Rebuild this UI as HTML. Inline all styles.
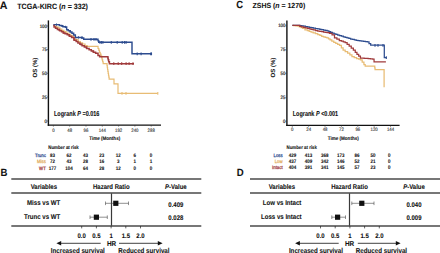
<!DOCTYPE html>
<html><head><meta charset="utf-8"><style>
html,body{margin:0;padding:0;background:#fff;width:440px;height:253px;overflow:hidden}
svg{display:block;font-family:"Liberation Sans", sans-serif;text-rendering:geometricPrecision}
</style></head><body>
<svg width="440" height="253" viewBox="0 0 440 253">
<rect width="440" height="253" fill="#fff"/>
<text transform="translate(-0.3 8.5) scale(1 1.02)" font-size="10.6" font-weight="bold" text-anchor="start" fill="#111" font-style="normal"  stroke="#111" stroke-width="0.08">A</text>
<text transform="translate(17.2 8.5) scale(1 1.08)" font-size="7.1" font-weight="bold" text-anchor="start" fill="#111" font-style="normal"  stroke="#111" stroke-width="0.08">TCGA-KIRC (<tspan font-style="italic">n</tspan> = 332)</text>
<line x1="48.4" y1="20.4" x2="48.4" y2="125.85000000000001" stroke="#111" stroke-width="1.4"/>
<line x1="47.8" y1="125.2" x2="161" y2="125.2" stroke="#111" stroke-width="1.3"/>
<line x1="53.4" y1="125.2" x2="53.4" y2="126.60000000000001" stroke="#333" stroke-width="0.6"/>
<text transform="translate(53.4 131.5) scale(1 1.14)" font-size="4.3" font-weight="normal" text-anchor="middle" fill="#444" font-style="normal" stroke="#444" stroke-width="0.12">0</text>
<line x1="69.7" y1="125.2" x2="69.7" y2="126.60000000000001" stroke="#333" stroke-width="0.6"/>
<text transform="translate(69.7 131.5) scale(1 1.14)" font-size="4.3" font-weight="normal" text-anchor="middle" fill="#444" font-style="normal" stroke="#444" stroke-width="0.12">48</text>
<line x1="86.0" y1="125.2" x2="86.0" y2="126.60000000000001" stroke="#333" stroke-width="0.6"/>
<text transform="translate(86.0 131.5) scale(1 1.14)" font-size="4.3" font-weight="normal" text-anchor="middle" fill="#444" font-style="normal" stroke="#444" stroke-width="0.12">96</text>
<line x1="102.30000000000001" y1="125.2" x2="102.30000000000001" y2="126.60000000000001" stroke="#333" stroke-width="0.6"/>
<text transform="translate(102.30000000000001 131.5) scale(1 1.14)" font-size="4.3" font-weight="normal" text-anchor="middle" fill="#444" font-style="normal" stroke="#444" stroke-width="0.12">144</text>
<line x1="118.6" y1="125.2" x2="118.6" y2="126.60000000000001" stroke="#333" stroke-width="0.6"/>
<text transform="translate(118.6 131.5) scale(1 1.14)" font-size="4.3" font-weight="normal" text-anchor="middle" fill="#444" font-style="normal" stroke="#444" stroke-width="0.12">192</text>
<line x1="134.9" y1="125.2" x2="134.9" y2="126.60000000000001" stroke="#333" stroke-width="0.6"/>
<text transform="translate(134.9 131.5) scale(1 1.14)" font-size="4.3" font-weight="normal" text-anchor="middle" fill="#444" font-style="normal" stroke="#444" stroke-width="0.12">240</text>
<line x1="151.20000000000002" y1="125.2" x2="151.20000000000002" y2="126.60000000000001" stroke="#333" stroke-width="0.6"/>
<text transform="translate(151.20000000000002 131.5) scale(1 1.14)" font-size="4.3" font-weight="normal" text-anchor="middle" fill="#444" font-style="normal" stroke="#444" stroke-width="0.12">288</text>
<line x1="47.0" y1="26" x2="48.4" y2="26" stroke="#333" stroke-width="0.6"/>
<text transform="translate(46.8 27.5) scale(1 1.14)" font-size="4.3" font-weight="normal" text-anchor="end" fill="#333" font-style="normal" stroke="#333" stroke-width="0.2">100</text>
<line x1="47.0" y1="49.6" x2="48.4" y2="49.6" stroke="#333" stroke-width="0.6"/>
<text transform="translate(46.8 51.1) scale(1 1.14)" font-size="4.3" font-weight="normal" text-anchor="end" fill="#333" font-style="normal" stroke="#333" stroke-width="0.2">75</text>
<line x1="47.0" y1="73.3" x2="48.4" y2="73.3" stroke="#333" stroke-width="0.6"/>
<text transform="translate(46.8 74.8) scale(1 1.14)" font-size="4.3" font-weight="normal" text-anchor="end" fill="#333" font-style="normal" stroke="#333" stroke-width="0.2">50</text>
<line x1="47.0" y1="97" x2="48.4" y2="97" stroke="#333" stroke-width="0.6"/>
<text transform="translate(46.8 98.5) scale(1 1.14)" font-size="4.3" font-weight="normal" text-anchor="end" fill="#333" font-style="normal" stroke="#333" stroke-width="0.2">25</text>
<line x1="47.0" y1="121" x2="48.4" y2="121" stroke="#333" stroke-width="0.6"/>
<text transform="translate(46.8 122.5) scale(1 1.14)" font-size="4.3" font-weight="normal" text-anchor="end" fill="#333" font-style="normal" stroke="#333" stroke-width="0.2">0</text>
<text transform="translate(104.7 140.0) scale(1 1.14)" font-size="4.55" font-weight="bold" text-anchor="middle" fill="#111" font-style="normal"  stroke="#111" stroke-width="0.08">Time (Months)</text>
<text font-size="6.1" font-weight="bold" text-anchor="middle" fill="#111" transform="translate(36.65 67.6) rotate(-90) scale(1.0 1)">OS (%)</text>
<path d="M53.30,25.50 H54.60 V26.40 H55.90 H56.65 V27.15 H57.40 H58.15 V27.90 H58.90 H59.88 V29.10 H60.85 H61.82 V30.30 H62.80 H63.92 V31.65 H65.05 H66.17 V33.00 H67.30 H68.28 V34.15 H69.25 H70.22 V35.30 H71.20 H72.00 V36.45 H72.80 H73.60 V37.60 H74.40 H75.70 V39.60 H77.00 H78.15 V41.50 H79.30 H80.40 V42.75 H81.50 H82.60 V44.00 H83.70 H85.00 V45.60 H86.30 H87.15 V46.30 H88.00 L97.60,46.30 H98.05 V48.50 H98.50 H98.83 V50.45 H99.15 H99.47 V52.40 H99.80 H100.20 V54.10 H100.60 H101.00 V55.80 H101.40 H101.65 V57.80 H101.90 H102.15 V59.80 H102.40 H102.65 V61.75 H102.90 H103.15 V63.70 H103.40 L106.90,63.70 H107.03 V65.63 H107.17 H107.30 V67.57 H107.43 H107.57 V69.50 H107.70 H107.86 V71.42 H108.02 H108.18 V73.34 H108.34 H108.50 V75.26 H108.66 H108.82 V77.18 H108.98 H109.14 V79.10 H109.30 L114.00,79.10 L114.00,83.90 L118.00,83.90 L118.00,93.40 L157.80,93.40" fill="none" stroke="#e8bc74" stroke-width="1.2" stroke-linejoin="miter"/>
<path d="M53.30,25.00 H54.15 V24.60 H55.00 L58.00,24.60 H59.35 V25.50 H60.70 H61.58 V26.10 H62.45 H63.33 V26.70 H64.20 H65.25 V27.00 H66.30 H66.65 V29.80 H67.00 H68.20 V30.70 H69.40 H70.20 V32.00 H71.00 H71.95 V33.30 H72.90 H73.65 V35.00 H74.40 H75.35 V37.40 H76.30 L81.00,37.40 H81.90 V38.00 H82.80 H83.70 V39.30 H84.60 L97.60,39.30 H97.97 V40.80 H98.35 H98.72 V42.30 H99.10 L132.00,42.30 L132.00,53.80 L151.50,53.80" fill="none" stroke="#2d4c8f" stroke-width="1.45" stroke-linejoin="miter"/>
<path d="M53.30,25.50 H54.05 V26.90 H54.80 H55.55 V28.30 H56.30 H57.40 V29.55 H58.50 H59.60 V30.80 H60.70 H61.53 V31.85 H62.35 H63.17 V32.90 H64.00 H65.08 V33.85 H66.15 H67.22 V34.80 H68.30 H69.40 V36.20 H70.50 H71.60 V37.60 H72.70 H74.00 V40.30 H75.30 H76.17 V41.60 H77.05 H77.92 V42.90 H78.80 H79.88 V44.30 H80.95 H82.02 V45.70 H83.10 H84.32 V47.10 H85.55 H86.78 V48.50 H88.00 H89.10 V49.80 H90.20 H91.30 V51.10 H92.40 H93.48 V52.20 H94.55 H95.62 V53.30 H96.70 H98.00 V55.40 H99.30 H99.65 V56.80 H100.00 L107.80,56.80 H107.92 V58.30 H108.05 H108.17 V59.80 H108.30 H108.67 V61.75 H109.05 H109.42 V63.70 H109.80 L134.00,63.70" fill="none" stroke="#a03a3b" stroke-width="1.5" stroke-linejoin="miter"/>
<line x1="82" y1="36.2" x2="82" y2="39.0" stroke="#2d4c8f" stroke-width="1.1"/>
<line x1="91" y1="38.0" x2="91" y2="40.8" stroke="#2d4c8f" stroke-width="1.1"/>
<line x1="94" y1="38.0" x2="94" y2="40.8" stroke="#2d4c8f" stroke-width="1.1"/>
<line x1="96" y1="38.0" x2="96" y2="40.8" stroke="#2d4c8f" stroke-width="1.1"/>
<line x1="99.9" y1="41.0" x2="99.9" y2="43.8" stroke="#2d4c8f" stroke-width="1.1"/>
<line x1="101.4" y1="41.0" x2="101.4" y2="43.8" stroke="#2d4c8f" stroke-width="1.1"/>
<line x1="102.9" y1="41.0" x2="102.9" y2="43.8" stroke="#2d4c8f" stroke-width="1.1"/>
<line x1="111.3" y1="41.0" x2="111.3" y2="43.8" stroke="#2d4c8f" stroke-width="1.1"/>
<line x1="117.2" y1="41.0" x2="117.2" y2="43.8" stroke="#2d4c8f" stroke-width="1.1"/>
<line x1="122.2" y1="41.0" x2="122.2" y2="43.8" stroke="#2d4c8f" stroke-width="1.1"/>
<line x1="124.6" y1="41.0" x2="124.6" y2="43.8" stroke="#2d4c8f" stroke-width="1.1"/>
<line x1="126.1" y1="41.0" x2="126.1" y2="43.8" stroke="#2d4c8f" stroke-width="1.1"/>
<line x1="137.2" y1="52.4" x2="137.2" y2="55.199999999999996" stroke="#2d4c8f" stroke-width="1.1"/>
<line x1="141.1" y1="52.4" x2="141.1" y2="55.199999999999996" stroke="#2d4c8f" stroke-width="1.1"/>
<line x1="150.7" y1="52.4" x2="150.7" y2="55.199999999999996" stroke="#2d4c8f" stroke-width="1.1"/>
<line x1="151.5" y1="52.4" x2="151.5" y2="55.199999999999996" stroke="#2d4c8f" stroke-width="1.1"/>
<line x1="56.5" y1="23.5" x2="56.5" y2="25.700000000000003" stroke="#2d4c8f" stroke-width="1.1"/>
<line x1="62.5" y1="25.017142857142854" x2="62.5" y2="27.217142857142857" stroke="#2d4c8f" stroke-width="1.1"/>
<line x1="65.5" y1="25.785714285714285" x2="65.5" y2="27.985714285714288" stroke="#2d4c8f" stroke-width="1.1"/>
<line x1="70" y1="30.087499999999995" x2="70" y2="32.287499999999994" stroke="#2d4c8f" stroke-width="1.1"/>
<line x1="78.5" y1="36.3" x2="78.5" y2="38.5" stroke="#2d4c8f" stroke-width="1.1"/>
<line x1="59" y1="28.73409090909091" x2="59" y2="30.934090909090912" stroke="#a03a3b" stroke-width="1.1"/>
<line x1="64" y1="31.799999999999997" x2="64" y2="34.0" stroke="#a03a3b" stroke-width="1.1"/>
<line x1="69" y1="34.14545454545454" x2="69" y2="36.345454545454544" stroke="#a03a3b" stroke-width="1.1"/>
<line x1="74" y1="37.85" x2="74" y2="40.050000000000004" stroke="#a03a3b" stroke-width="1.1"/>
<line x1="81" y1="43.23255813953489" x2="81" y2="45.43255813953489" stroke="#a03a3b" stroke-width="1.1"/>
<line x1="86" y1="46.25714285714286" x2="86" y2="48.45714285714286" stroke="#a03a3b" stroke-width="1.1"/>
<line x1="93" y1="50.306976744186045" x2="93" y2="52.50697674418605" stroke="#a03a3b" stroke-width="1.1"/>
<line x1="113.8" y1="62.300000000000004" x2="113.8" y2="65.10000000000001" stroke="#a03a3b" stroke-width="1.1"/>
<line x1="118.2" y1="62.300000000000004" x2="118.2" y2="65.10000000000001" stroke="#a03a3b" stroke-width="1.1"/>
<line x1="121.7" y1="62.300000000000004" x2="121.7" y2="65.10000000000001" stroke="#a03a3b" stroke-width="1.1"/>
<line x1="126.1" y1="62.300000000000004" x2="126.1" y2="65.10000000000001" stroke="#a03a3b" stroke-width="1.1"/>
<line x1="129.1" y1="62.300000000000004" x2="129.1" y2="65.10000000000001" stroke="#a03a3b" stroke-width="1.1"/>
<line x1="133" y1="62.300000000000004" x2="133" y2="65.10000000000001" stroke="#a03a3b" stroke-width="1.1"/>
<line x1="122" y1="92.0" x2="122" y2="94.80000000000001" stroke="#e8bc74" stroke-width="1.1"/>
<line x1="126" y1="92.0" x2="126" y2="94.80000000000001" stroke="#e8bc74" stroke-width="1.1"/>
<line x1="157.8" y1="92.0" x2="157.8" y2="94.80000000000001" stroke="#e8bc74" stroke-width="1.1"/>
<text transform="translate(54 116.0) scale(1 1.3)" font-size="5.5" font-weight="bold" text-anchor="start" fill="#111" font-style="normal"  stroke="#111" stroke-width="0.08">Logrank <tspan font-style="italic">P</tspan> =0.016</text>
<text transform="translate(48.3 149.2) scale(1 1.14)" font-size="4.35" font-weight="bold" text-anchor="start" fill="#111" font-style="normal"  stroke="#111" stroke-width="0.08">Number at risk</text>
<text transform="translate(45.8 156.7) scale(1 1.14)" font-size="4.3" font-weight="normal" text-anchor="end" fill="#2d4c8f" font-style="normal" stroke="#2d4c8f" stroke-width="0.22">Trunc</text>
<text transform="translate(52.55 156.7) scale(1 1.14)" font-size="4.5" font-weight="bold" text-anchor="middle" fill="#111" font-style="normal"  stroke="#111" stroke-width="0.08">83</text>
<text transform="translate(68.97 156.7) scale(1 1.14)" font-size="4.5" font-weight="bold" text-anchor="middle" fill="#111" font-style="normal"  stroke="#111" stroke-width="0.08">62</text>
<text transform="translate(85.39 156.7) scale(1 1.14)" font-size="4.5" font-weight="bold" text-anchor="middle" fill="#111" font-style="normal"  stroke="#111" stroke-width="0.08">43</text>
<text transform="translate(101.81 156.7) scale(1 1.14)" font-size="4.5" font-weight="bold" text-anchor="middle" fill="#111" font-style="normal"  stroke="#111" stroke-width="0.08">23</text>
<text transform="translate(118.23 156.7) scale(1 1.14)" font-size="4.5" font-weight="bold" text-anchor="middle" fill="#111" font-style="normal"  stroke="#111" stroke-width="0.08">12</text>
<text transform="translate(134.65 156.7) scale(1 1.14)" font-size="4.5" font-weight="bold" text-anchor="middle" fill="#111" font-style="normal"  stroke="#111" stroke-width="0.08">6</text>
<text transform="translate(151.07 156.7) scale(1 1.14)" font-size="4.5" font-weight="bold" text-anchor="middle" fill="#111" font-style="normal"  stroke="#111" stroke-width="0.08">0</text>
<text transform="translate(45.8 163.4) scale(1 1.14)" font-size="4.3" font-weight="normal" text-anchor="end" fill="#e2ad5e" font-style="normal" stroke="#e2ad5e" stroke-width="0.22">Miss</text>
<text transform="translate(52.55 163.4) scale(1 1.14)" font-size="4.5" font-weight="bold" text-anchor="middle" fill="#111" font-style="normal"  stroke="#111" stroke-width="0.08">72</text>
<text transform="translate(68.97 163.4) scale(1 1.14)" font-size="4.5" font-weight="bold" text-anchor="middle" fill="#111" font-style="normal"  stroke="#111" stroke-width="0.08">43</text>
<text transform="translate(85.39 163.4) scale(1 1.14)" font-size="4.5" font-weight="bold" text-anchor="middle" fill="#111" font-style="normal"  stroke="#111" stroke-width="0.08">28</text>
<text transform="translate(101.81 163.4) scale(1 1.14)" font-size="4.5" font-weight="bold" text-anchor="middle" fill="#111" font-style="normal"  stroke="#111" stroke-width="0.08">16</text>
<text transform="translate(118.23 163.4) scale(1 1.14)" font-size="4.5" font-weight="bold" text-anchor="middle" fill="#111" font-style="normal"  stroke="#111" stroke-width="0.08">3</text>
<text transform="translate(134.65 163.4) scale(1 1.14)" font-size="4.5" font-weight="bold" text-anchor="middle" fill="#111" font-style="normal"  stroke="#111" stroke-width="0.08">1</text>
<text transform="translate(151.07 163.4) scale(1 1.14)" font-size="4.5" font-weight="bold" text-anchor="middle" fill="#111" font-style="normal"  stroke="#111" stroke-width="0.08">1</text>
<text transform="translate(45.8 169.8) scale(1 1.14)" font-size="4.3" font-weight="normal" text-anchor="end" fill="#a03a3b" font-style="normal" stroke="#a03a3b" stroke-width="0.22">WT</text>
<text transform="translate(52.55 169.8) scale(1 1.14)" font-size="4.5" font-weight="bold" text-anchor="middle" fill="#111" font-style="normal"  stroke="#111" stroke-width="0.08">177</text>
<text transform="translate(68.97 169.8) scale(1 1.14)" font-size="4.5" font-weight="bold" text-anchor="middle" fill="#111" font-style="normal"  stroke="#111" stroke-width="0.08">104</text>
<text transform="translate(85.39 169.8) scale(1 1.14)" font-size="4.5" font-weight="bold" text-anchor="middle" fill="#111" font-style="normal"  stroke="#111" stroke-width="0.08">64</text>
<text transform="translate(101.81 169.8) scale(1 1.14)" font-size="4.5" font-weight="bold" text-anchor="middle" fill="#111" font-style="normal"  stroke="#111" stroke-width="0.08">28</text>
<text transform="translate(118.23 169.8) scale(1 1.14)" font-size="4.5" font-weight="bold" text-anchor="middle" fill="#111" font-style="normal"  stroke="#111" stroke-width="0.08">12</text>
<text transform="translate(134.65 169.8) scale(1 1.14)" font-size="4.5" font-weight="bold" text-anchor="middle" fill="#111" font-style="normal"  stroke="#111" stroke-width="0.08">0</text>
<text transform="translate(151.07 169.8) scale(1 1.14)" font-size="4.5" font-weight="bold" text-anchor="middle" fill="#111" font-style="normal"  stroke="#111" stroke-width="0.08">0</text>
<text transform="translate(0.6 175.8) scale(1 1.1)" font-size="9.6" font-weight="bold" text-anchor="start" fill="#111" font-style="normal"  stroke="#111" stroke-width="0.08">B</text>
<line x1="11.3" y1="178.9" x2="201.3" y2="178.9" stroke="#4a4a4a" stroke-width="1.5"/>
<line x1="11.3" y1="193.0" x2="201.3" y2="193.0" stroke="#4a4a4a" stroke-width="1.5"/>
<line x1="11.3" y1="225.9" x2="201.3" y2="225.9" stroke="#4a4a4a" stroke-width="1.5"/>
<text transform="translate(43.8 188.5) scale(1 1.14)" font-size="6.0" font-weight="bold" text-anchor="middle" fill="#111" font-style="normal"  stroke="#111" stroke-width="0.08">Variables</text>
<text transform="translate(111.3 188.5) scale(1 1.14)" font-size="6.0" font-weight="bold" text-anchor="middle" fill="#111" font-style="normal"  stroke="#111" stroke-width="0.08">Hazard Ratio</text>
<text transform="translate(175.8 188.5) scale(1 1.14)" font-size="6.0" font-weight="bold" text-anchor="middle" fill="#111" font-style="normal"  stroke="#111" stroke-width="0.08"><tspan font-style="italic">P</tspan>-Value</text>
<line x1="111.5" y1="193.3" x2="111.5" y2="225.8" stroke="#3a3a3a" stroke-width="1.2"/>
<line x1="81.7" y1="226" x2="81.7" y2="228.4" stroke="#222" stroke-width="0.7"/>
<text transform="translate(81.7 237.6) scale(1 1.1)" font-size="6.0" font-weight="bold" text-anchor="middle" fill="#111" font-style="normal"  stroke="#111" stroke-width="0.08">0.0</text>
<line x1="96.4" y1="226" x2="96.4" y2="228.4" stroke="#222" stroke-width="0.7"/>
<text transform="translate(96.4 237.6) scale(1 1.1)" font-size="6.0" font-weight="bold" text-anchor="middle" fill="#111" font-style="normal"  stroke="#111" stroke-width="0.08">0.5</text>
<line x1="111.1" y1="226" x2="111.1" y2="228.4" stroke="#222" stroke-width="0.7"/>
<text transform="translate(111.1 237.6) scale(1 1.1)" font-size="6.0" font-weight="bold" text-anchor="middle" fill="#111" font-style="normal"  stroke="#111" stroke-width="0.08">1</text>
<line x1="125.8" y1="226" x2="125.8" y2="228.4" stroke="#222" stroke-width="0.7"/>
<text transform="translate(125.8 237.6) scale(1 1.1)" font-size="6.0" font-weight="bold" text-anchor="middle" fill="#111" font-style="normal"  stroke="#111" stroke-width="0.08">1.5</text>
<line x1="140.5" y1="226" x2="140.5" y2="228.4" stroke="#222" stroke-width="0.7"/>
<text transform="translate(140.5 237.6) scale(1 1.1)" font-size="6.0" font-weight="bold" text-anchor="middle" fill="#111" font-style="normal"  stroke="#111" stroke-width="0.08">2.0</text>
<text transform="translate(27.0 205.4) scale(1 1.14)" font-size="6.1" font-weight="bold" text-anchor="start" fill="#111" font-style="normal"  stroke="#111" stroke-width="0.08">Miss vs WT</text>
<line x1="105.5" y1="203.3" x2="128.5" y2="203.3" stroke="#444" stroke-width="0.6"/>
<line x1="105.5" y1="201.5" x2="105.5" y2="205.10000000000002" stroke="#444" stroke-width="0.6"/>
<line x1="128.5" y1="201.5" x2="128.5" y2="205.10000000000002" stroke="#444" stroke-width="0.6"/>
<rect x="113.2" y="200.70000000000002" width="5.2" height="5.2" fill="#111"/>
<text transform="translate(175.8 206.5) scale(1 1.14)" font-size="6.0" font-weight="bold" text-anchor="middle" fill="#111" font-style="normal"  stroke="#111" stroke-width="0.08">0.409</text>
<text transform="translate(24.0 219.29999999999998) scale(1 1.14)" font-size="6.1" font-weight="bold" text-anchor="start" fill="#111" font-style="normal"  stroke="#111" stroke-width="0.08">Trunc vs WT</text>
<line x1="90" y1="217.2" x2="107.3" y2="217.2" stroke="#444" stroke-width="0.6"/>
<line x1="90" y1="215.39999999999998" x2="90" y2="219.0" stroke="#444" stroke-width="0.6"/>
<line x1="107.3" y1="215.39999999999998" x2="107.3" y2="219.0" stroke="#444" stroke-width="0.6"/>
<rect x="93.80000000000001" y="214.6" width="5.2" height="5.2" fill="#111"/>
<text transform="translate(175.8 220.39999999999998) scale(1 1.14)" font-size="6.0" font-weight="bold" text-anchor="middle" fill="#111" font-style="normal"  stroke="#111" stroke-width="0.08">0.028</text>
<text transform="translate(111.5 245.7) scale(1 1.1)" font-size="6.4" font-weight="bold" text-anchor="middle" fill="#111" font-style="normal"  stroke="#111" stroke-width="0.08">HR</text>
<line x1="59.4" y1="243.3" x2="100.7" y2="243.3" stroke="#111" stroke-width="0.8"/>
<path d="M56.4,243.3 L61.199999999999996,241.10000000000002 L61.199999999999996,245.5 Z" fill="#111"/>
<line x1="119" y1="243.3" x2="159.6" y2="243.3" stroke="#111" stroke-width="0.8"/>
<path d="M162.6,243.3 L157.79999999999998,241.10000000000002 L157.79999999999998,245.5 Z" fill="#111"/>
<text transform="translate(50.8 253.3) scale(1 1.14)" font-size="6.2" font-weight="bold" text-anchor="start" fill="#111" font-style="normal"  stroke="#111" stroke-width="0.08">Increased survival</text>
<text transform="translate(169.5 253.3) scale(1 1.14)" font-size="6.2" font-weight="bold" text-anchor="end" fill="#111" font-style="normal"  stroke="#111" stroke-width="0.08">Reduced survival</text>
<text transform="translate(236.3 8.0) scale(1 1.1)" font-size="9.4" font-weight="bold" text-anchor="start" fill="#111" font-style="normal"  stroke="#111" stroke-width="0.08">C</text>
<text transform="translate(252.6 8.35) scale(1 1.06)" font-size="6.95" font-weight="bold" text-anchor="start" fill="#111" font-style="normal"  stroke="#111" stroke-width="0.08">ZSHS (<tspan font-style="italic">n</tspan> = 1270)</text>
<line x1="286.9" y1="20.4" x2="286.9" y2="126.05000000000001" stroke="#111" stroke-width="1.4"/>
<line x1="286.29999999999995" y1="125.4" x2="399.6" y2="125.4" stroke="#111" stroke-width="1.3"/>
<line x1="292.3" y1="125.4" x2="292.3" y2="126.80000000000001" stroke="#333" stroke-width="0.6"/>
<text transform="translate(292.3 131.20000000000002) scale(1 1.14)" font-size="4.3" font-weight="normal" text-anchor="middle" fill="#444" font-style="normal" stroke="#444" stroke-width="0.12">0</text>
<line x1="308.67" y1="125.4" x2="308.67" y2="126.80000000000001" stroke="#333" stroke-width="0.6"/>
<text transform="translate(308.67 131.20000000000002) scale(1 1.14)" font-size="4.3" font-weight="normal" text-anchor="middle" fill="#444" font-style="normal" stroke="#444" stroke-width="0.12">24</text>
<line x1="325.04" y1="125.4" x2="325.04" y2="126.80000000000001" stroke="#333" stroke-width="0.6"/>
<text transform="translate(325.04 131.20000000000002) scale(1 1.14)" font-size="4.3" font-weight="normal" text-anchor="middle" fill="#444" font-style="normal" stroke="#444" stroke-width="0.12">48</text>
<line x1="341.41" y1="125.4" x2="341.41" y2="126.80000000000001" stroke="#333" stroke-width="0.6"/>
<text transform="translate(341.41 131.20000000000002) scale(1 1.14)" font-size="4.3" font-weight="normal" text-anchor="middle" fill="#444" font-style="normal" stroke="#444" stroke-width="0.12">72</text>
<line x1="357.78000000000003" y1="125.4" x2="357.78000000000003" y2="126.80000000000001" stroke="#333" stroke-width="0.6"/>
<text transform="translate(357.78000000000003 131.20000000000002) scale(1 1.14)" font-size="4.3" font-weight="normal" text-anchor="middle" fill="#444" font-style="normal" stroke="#444" stroke-width="0.12">96</text>
<line x1="374.15000000000003" y1="125.4" x2="374.15000000000003" y2="126.80000000000001" stroke="#333" stroke-width="0.6"/>
<text transform="translate(374.15000000000003 131.20000000000002) scale(1 1.14)" font-size="4.3" font-weight="normal" text-anchor="middle" fill="#444" font-style="normal" stroke="#444" stroke-width="0.12">120</text>
<line x1="390.52" y1="125.4" x2="390.52" y2="126.80000000000001" stroke="#333" stroke-width="0.6"/>
<text transform="translate(390.52 131.20000000000002) scale(1 1.14)" font-size="4.3" font-weight="normal" text-anchor="middle" fill="#444" font-style="normal" stroke="#444" stroke-width="0.12">144</text>
<line x1="285.5" y1="25.8" x2="286.9" y2="25.8" stroke="#333" stroke-width="0.6"/>
<text transform="translate(285.29999999999995 27.3) scale(1 1.14)" font-size="4.3" font-weight="normal" text-anchor="end" fill="#333" font-style="normal" stroke="#333" stroke-width="0.2">100</text>
<line x1="285.5" y1="49.6" x2="286.9" y2="49.6" stroke="#333" stroke-width="0.6"/>
<text transform="translate(285.29999999999995 51.1) scale(1 1.14)" font-size="4.3" font-weight="normal" text-anchor="end" fill="#333" font-style="normal" stroke="#333" stroke-width="0.2">75</text>
<line x1="285.5" y1="73.5" x2="286.9" y2="73.5" stroke="#333" stroke-width="0.6"/>
<text transform="translate(285.29999999999995 75.0) scale(1 1.14)" font-size="4.3" font-weight="normal" text-anchor="end" fill="#333" font-style="normal" stroke="#333" stroke-width="0.2">50</text>
<line x1="285.5" y1="97.2" x2="286.9" y2="97.2" stroke="#333" stroke-width="0.6"/>
<text transform="translate(285.29999999999995 98.7) scale(1 1.14)" font-size="4.3" font-weight="normal" text-anchor="end" fill="#333" font-style="normal" stroke="#333" stroke-width="0.2">25</text>
<line x1="285.5" y1="121.3" x2="286.9" y2="121.3" stroke="#333" stroke-width="0.6"/>
<text transform="translate(285.29999999999995 122.8) scale(1 1.14)" font-size="4.3" font-weight="normal" text-anchor="end" fill="#333" font-style="normal" stroke="#333" stroke-width="0.2">0</text>
<text transform="translate(343.25 140.20000000000002) scale(1 1.14)" font-size="4.55" font-weight="bold" text-anchor="middle" fill="#111" font-style="normal"  stroke="#111" stroke-width="0.08">Time (Months)</text>
<text font-size="6.1" font-weight="bold" text-anchor="middle" fill="#111" transform="translate(275.15 67.6) rotate(-90) scale(1.0 1)">OS (%)</text>
<path d="M292.40,25.30 H293.40 V25.53 H294.40 H295.40 V25.77 H296.40 H297.40 V26.00 H298.40 H299.25 V26.77 H300.10 H300.95 V27.53 H301.80 H302.65 V28.30 H303.50 H304.95 V29.80 H306.40 H307.33 V30.53 H308.27 H309.20 V31.27 H310.13 H311.07 V32.00 H312.00 H313.15 V32.87 H314.30 H315.45 V33.73 H316.60 H317.75 V34.60 H318.90 H319.82 V35.45 H320.75 H321.68 V36.30 H322.60 H323.47 V36.80 H324.33 H325.20 V37.30 H326.07 H326.93 V37.80 H327.80 H328.55 V38.80 H329.30 H330.05 V39.80 H330.80 H331.80 V41.05 H332.80 H333.80 V42.30 H334.80 H335.75 V43.33 H336.70 H337.65 V44.37 H338.60 H339.55 V45.40 H340.50 H341.38 V47.80 H342.25 H343.12 V50.20 H344.00 H345.20 V51.60 H346.40 H347.60 V53.00 H348.80 H349.85 V54.75 H350.90 H351.95 V56.50 H353.00 H354.20 V57.50 H355.40 H356.60 V58.50 H357.80 H358.68 V59.20 H359.55 H360.43 V59.90 H361.30 H362.18 V62.20 H363.05 H363.93 V64.50 H364.80 H365.20 V66.00 H365.60 L374.60,66.00 H374.75 V67.80 H374.90 H375.05 V69.60 H375.20 L384.10,69.60 L384.10,87.20" fill="none" stroke="#e8bc74" stroke-width="1.25" stroke-linejoin="miter"/>
<path d="M292.40,25.30 L298.90,25.30 H299.80 V25.50 H300.70 H301.65 V25.83 H302.60 H303.55 V26.17 H304.50 H305.45 V26.50 H306.40 H307.33 V26.90 H308.27 H309.20 V27.30 H310.13 H311.07 V27.70 H312.00 H313.15 V28.10 H314.30 H315.45 V28.50 H316.60 H317.75 V28.90 H318.90 H319.82 V29.25 H320.75 H321.68 V29.60 H322.60 H323.50 V30.03 H324.40 H325.30 V30.47 H326.20 H327.10 V30.90 H328.00 H328.88 V31.65 H329.75 H330.62 V32.40 H331.50 H332.38 V33.15 H333.25 H334.12 V33.90 H335.00 H335.92 V34.47 H336.83 H337.75 V35.03 H338.67 H339.58 V35.60 H340.50 H341.43 V36.20 H342.37 H343.30 V36.80 H344.23 H345.17 V37.40 H346.10 H347.02 V37.93 H347.93 H348.85 V38.47 H349.77 H350.68 V39.00 H351.60 H352.52 V39.47 H353.43 H354.35 V39.93 H355.27 H356.18 V40.40 H357.10 H358.03 V40.67 H358.97 H359.90 V40.93 H360.83 H361.77 V41.20 H362.70 H363.62 V41.43 H364.53 H365.45 V41.67 H366.37 H367.28 V41.90 H368.20 H369.02 V43.55 H369.85 H370.68 V45.20 H371.50 L384.30,45.20 L384.30,57.60 L386.60,57.60" fill="none" stroke="#2d4c8f" stroke-width="1.25" stroke-linejoin="miter"/>
<path d="M292.40,25.30 H293.48 V25.33 H294.57 H295.65 V25.37 H296.73 H297.82 V25.40 H298.90 H299.80 V26.30 H300.70 H301.65 V26.83 H302.60 H303.55 V27.37 H304.50 H305.45 V27.90 H306.40 H307.33 V28.37 H308.27 H309.20 V28.83 H310.13 H311.07 V29.30 H312.00 H313.15 V29.90 H314.30 H315.45 V30.50 H316.60 H317.75 V31.10 H318.90 H319.82 V31.40 H320.75 H321.68 V31.70 H322.60 H323.50 V32.00 H324.40 H325.30 V32.30 H326.20 H327.10 V32.60 H328.00 H329.40 V33.40 H330.80 H332.05 V34.90 H333.30 H334.50 V37.80 H335.70 H336.90 V39.15 H338.10 H339.30 V40.50 H340.50 H341.43 V41.20 H342.37 H343.30 V41.90 H344.23 H345.17 V42.60 H346.10 H347.12 V44.35 H348.15 H349.18 V46.10 H350.20 H351.25 V48.15 H352.30 H353.35 V50.20 H354.40 H355.25 V52.30 H356.10 H356.95 V54.40 H357.80 H358.68 V56.20 H359.55 H360.43 V58.00 H361.30 H362.25 V58.13 H363.20 H364.15 V58.27 H365.10 H366.05 V58.40 H367.00 H368.13 V58.60 H369.27 H370.40 V58.80 H371.53 H372.67 V59.00 H373.80 H374.05 V61.90 H374.30 L385.90,61.90" fill="none" stroke="#a03a3b" stroke-width="1.25" stroke-linejoin="miter"/>
<line x1="375" y1="44.0" x2="375" y2="46.8" stroke="#2d4c8f" stroke-width="1.1"/>
<line x1="378" y1="44.0" x2="378" y2="46.8" stroke="#2d4c8f" stroke-width="1.1"/>
<line x1="383" y1="44.0" x2="383" y2="46.8" stroke="#2d4c8f" stroke-width="1.1"/>
<line x1="386.3" y1="56.2" x2="386.3" y2="59.0" stroke="#2d4c8f" stroke-width="1.1"/>
<text transform="translate(292.7 116.2) scale(1 1.3)" font-size="5.5" font-weight="bold" text-anchor="start" fill="#111" font-style="normal"  stroke="#111" stroke-width="0.08">Logrank <tspan font-style="italic">P</tspan> &lt;0.001</text>
<text transform="translate(286.5 149.2) scale(1 1.14)" font-size="4.35" font-weight="bold" text-anchor="start" fill="#111" font-style="normal"  stroke="#111" stroke-width="0.08">Number at risk</text>
<text transform="translate(282.6 156.7) scale(1 1.14)" font-size="4.3" font-weight="normal" text-anchor="end" fill="#2d4c8f" font-style="normal" stroke="#2d4c8f" stroke-width="0.22">Loss</text>
<text transform="translate(292.45 156.7) scale(1 1.14)" font-size="4.5" font-weight="bold" text-anchor="middle" fill="#111" font-style="normal"  stroke="#111" stroke-width="0.08">429</text>
<text transform="translate(308.58 156.7) scale(1 1.14)" font-size="4.5" font-weight="bold" text-anchor="middle" fill="#111" font-style="normal"  stroke="#111" stroke-width="0.08">413</text>
<text transform="translate(324.71 156.7) scale(1 1.14)" font-size="4.5" font-weight="bold" text-anchor="middle" fill="#111" font-style="normal"  stroke="#111" stroke-width="0.08">368</text>
<text transform="translate(340.84 156.7) scale(1 1.14)" font-size="4.5" font-weight="bold" text-anchor="middle" fill="#111" font-style="normal"  stroke="#111" stroke-width="0.08">173</text>
<text transform="translate(356.96999999999997 156.7) scale(1 1.14)" font-size="4.5" font-weight="bold" text-anchor="middle" fill="#111" font-style="normal"  stroke="#111" stroke-width="0.08">86</text>
<text transform="translate(373.09999999999997 156.7) scale(1 1.14)" font-size="4.5" font-weight="bold" text-anchor="middle" fill="#111" font-style="normal"  stroke="#111" stroke-width="0.08">50</text>
<text transform="translate(389.23 156.7) scale(1 1.14)" font-size="4.5" font-weight="bold" text-anchor="middle" fill="#111" font-style="normal"  stroke="#111" stroke-width="0.08">0</text>
<text transform="translate(282.6 162.9) scale(1 1.14)" font-size="4.3" font-weight="normal" text-anchor="end" fill="#e2ad5e" font-style="normal" stroke="#e2ad5e" stroke-width="0.22">Low</text>
<text transform="translate(292.45 162.9) scale(1 1.14)" font-size="4.5" font-weight="bold" text-anchor="middle" fill="#111" font-style="normal"  stroke="#111" stroke-width="0.08">437</text>
<text transform="translate(308.58 162.9) scale(1 1.14)" font-size="4.5" font-weight="bold" text-anchor="middle" fill="#111" font-style="normal"  stroke="#111" stroke-width="0.08">409</text>
<text transform="translate(324.71 162.9) scale(1 1.14)" font-size="4.5" font-weight="bold" text-anchor="middle" fill="#111" font-style="normal"  stroke="#111" stroke-width="0.08">342</text>
<text transform="translate(340.84 162.9) scale(1 1.14)" font-size="4.5" font-weight="bold" text-anchor="middle" fill="#111" font-style="normal"  stroke="#111" stroke-width="0.08">146</text>
<text transform="translate(356.96999999999997 162.9) scale(1 1.14)" font-size="4.5" font-weight="bold" text-anchor="middle" fill="#111" font-style="normal"  stroke="#111" stroke-width="0.08">52</text>
<text transform="translate(373.09999999999997 162.9) scale(1 1.14)" font-size="4.5" font-weight="bold" text-anchor="middle" fill="#111" font-style="normal"  stroke="#111" stroke-width="0.08">21</text>
<text transform="translate(389.23 162.9) scale(1 1.14)" font-size="4.5" font-weight="bold" text-anchor="middle" fill="#111" font-style="normal"  stroke="#111" stroke-width="0.08">0</text>
<text transform="translate(282.6 169.4) scale(1 1.14)" font-size="4.3" font-weight="normal" text-anchor="end" fill="#a03a3b" font-style="normal" stroke="#a03a3b" stroke-width="0.22">Intact</text>
<text transform="translate(292.45 169.4) scale(1 1.14)" font-size="4.5" font-weight="bold" text-anchor="middle" fill="#111" font-style="normal"  stroke="#111" stroke-width="0.08">404</text>
<text transform="translate(308.58 169.4) scale(1 1.14)" font-size="4.5" font-weight="bold" text-anchor="middle" fill="#111" font-style="normal"  stroke="#111" stroke-width="0.08">391</text>
<text transform="translate(324.71 169.4) scale(1 1.14)" font-size="4.5" font-weight="bold" text-anchor="middle" fill="#111" font-style="normal"  stroke="#111" stroke-width="0.08">341</text>
<text transform="translate(340.84 169.4) scale(1 1.14)" font-size="4.5" font-weight="bold" text-anchor="middle" fill="#111" font-style="normal"  stroke="#111" stroke-width="0.08">145</text>
<text transform="translate(356.96999999999997 169.4) scale(1 1.14)" font-size="4.5" font-weight="bold" text-anchor="middle" fill="#111" font-style="normal"  stroke="#111" stroke-width="0.08">57</text>
<text transform="translate(373.09999999999997 169.4) scale(1 1.14)" font-size="4.5" font-weight="bold" text-anchor="middle" fill="#111" font-style="normal"  stroke="#111" stroke-width="0.08">23</text>
<text transform="translate(389.23 169.4) scale(1 1.14)" font-size="4.5" font-weight="bold" text-anchor="middle" fill="#111" font-style="normal"  stroke="#111" stroke-width="0.08">0</text>
<text transform="translate(236.7 175.8) scale(1 1.1)" font-size="9.6" font-weight="bold" text-anchor="start" fill="#111" font-style="normal"  stroke="#111" stroke-width="0.08">D</text>
<line x1="250" y1="178.9" x2="440" y2="178.9" stroke="#4a4a4a" stroke-width="1.5"/>
<line x1="250" y1="193.0" x2="440" y2="193.0" stroke="#4a4a4a" stroke-width="1.5"/>
<line x1="250" y1="225.9" x2="440" y2="225.9" stroke="#4a4a4a" stroke-width="1.5"/>
<text transform="translate(281.8 188.5) scale(1 1.14)" font-size="6.0" font-weight="bold" text-anchor="middle" fill="#111" font-style="normal"  stroke="#111" stroke-width="0.08">Variables</text>
<text transform="translate(349.5 188.5) scale(1 1.14)" font-size="6.0" font-weight="bold" text-anchor="middle" fill="#111" font-style="normal"  stroke="#111" stroke-width="0.08">Hazard Ratio</text>
<text transform="translate(414 188.5) scale(1 1.14)" font-size="6.0" font-weight="bold" text-anchor="middle" fill="#111" font-style="normal"  stroke="#111" stroke-width="0.08"><tspan font-style="italic">P</tspan>-Value</text>
<line x1="349.5" y1="193.3" x2="349.5" y2="225.8" stroke="#3a3a3a" stroke-width="1.2"/>
<line x1="320.5" y1="226" x2="320.5" y2="228.4" stroke="#222" stroke-width="0.7"/>
<text transform="translate(320.5 237.6) scale(1 1.1)" font-size="6.0" font-weight="bold" text-anchor="middle" fill="#111" font-style="normal"  stroke="#111" stroke-width="0.08">0.0</text>
<line x1="335.2" y1="226" x2="335.2" y2="228.4" stroke="#222" stroke-width="0.7"/>
<text transform="translate(335.2 237.6) scale(1 1.1)" font-size="6.0" font-weight="bold" text-anchor="middle" fill="#111" font-style="normal"  stroke="#111" stroke-width="0.08">0.5</text>
<line x1="349.9" y1="226" x2="349.9" y2="228.4" stroke="#222" stroke-width="0.7"/>
<text transform="translate(349.9 237.6) scale(1 1.1)" font-size="6.0" font-weight="bold" text-anchor="middle" fill="#111" font-style="normal"  stroke="#111" stroke-width="0.08">1</text>
<line x1="364.6" y1="226" x2="364.6" y2="228.4" stroke="#222" stroke-width="0.7"/>
<text transform="translate(364.6 237.6) scale(1 1.1)" font-size="6.0" font-weight="bold" text-anchor="middle" fill="#111" font-style="normal"  stroke="#111" stroke-width="0.08">1.5</text>
<line x1="379.3" y1="226" x2="379.3" y2="228.4" stroke="#222" stroke-width="0.7"/>
<text transform="translate(379.3 237.6) scale(1 1.1)" font-size="6.0" font-weight="bold" text-anchor="middle" fill="#111" font-style="normal"  stroke="#111" stroke-width="0.08">2.0</text>
<text transform="translate(262.8 205.4) scale(1 1.14)" font-size="6.1" font-weight="bold" text-anchor="start" fill="#111" font-style="normal"  stroke="#111" stroke-width="0.08">Low vs Intact</text>
<line x1="351.8" y1="203.3" x2="374" y2="203.3" stroke="#444" stroke-width="0.6"/>
<line x1="351.8" y1="201.5" x2="351.8" y2="205.10000000000002" stroke="#444" stroke-width="0.6"/>
<line x1="374" y1="201.5" x2="374" y2="205.10000000000002" stroke="#444" stroke-width="0.6"/>
<rect x="359.2" y="200.70000000000002" width="5.2" height="5.2" fill="#111"/>
<text transform="translate(414 206.5) scale(1 1.14)" font-size="6.0" font-weight="bold" text-anchor="middle" fill="#111" font-style="normal"  stroke="#111" stroke-width="0.08">0.040</text>
<text transform="translate(261.0 219.29999999999998) scale(1 1.14)" font-size="6.1" font-weight="bold" text-anchor="start" fill="#111" font-style="normal"  stroke="#111" stroke-width="0.08">Loss vs Intact</text>
<line x1="331.8" y1="217.2" x2="345.5" y2="217.2" stroke="#444" stroke-width="0.6"/>
<line x1="331.8" y1="215.39999999999998" x2="331.8" y2="219.0" stroke="#444" stroke-width="0.6"/>
<line x1="345.5" y1="215.39999999999998" x2="345.5" y2="219.0" stroke="#444" stroke-width="0.6"/>
<rect x="335.0" y="214.6" width="5.2" height="5.2" fill="#111"/>
<text transform="translate(414 220.39999999999998) scale(1 1.14)" font-size="6.0" font-weight="bold" text-anchor="middle" fill="#111" font-style="normal"  stroke="#111" stroke-width="0.08">0.009</text>
<text transform="translate(349.5 245.7) scale(1 1.1)" font-size="6.4" font-weight="bold" text-anchor="middle" fill="#111" font-style="normal"  stroke="#111" stroke-width="0.08">HR</text>
<line x1="298.1" y1="243.3" x2="338.7" y2="243.3" stroke="#111" stroke-width="0.8"/>
<path d="M295.1,243.3 L299.90000000000003,241.10000000000002 L299.90000000000003,245.5 Z" fill="#111"/>
<line x1="357.8" y1="243.3" x2="397.6" y2="243.3" stroke="#111" stroke-width="0.8"/>
<path d="M400.6,243.3 L395.8,241.10000000000002 L395.8,245.5 Z" fill="#111"/>
<text transform="translate(288.9 253.3) scale(1 1.14)" font-size="6.2" font-weight="bold" text-anchor="start" fill="#111" font-style="normal"  stroke="#111" stroke-width="0.08">Increased survival</text>
<text transform="translate(407.1 253.3) scale(1 1.14)" font-size="6.2" font-weight="bold" text-anchor="end" fill="#111" font-style="normal"  stroke="#111" stroke-width="0.08">Reduced survival</text>
</svg>
</body></html>
